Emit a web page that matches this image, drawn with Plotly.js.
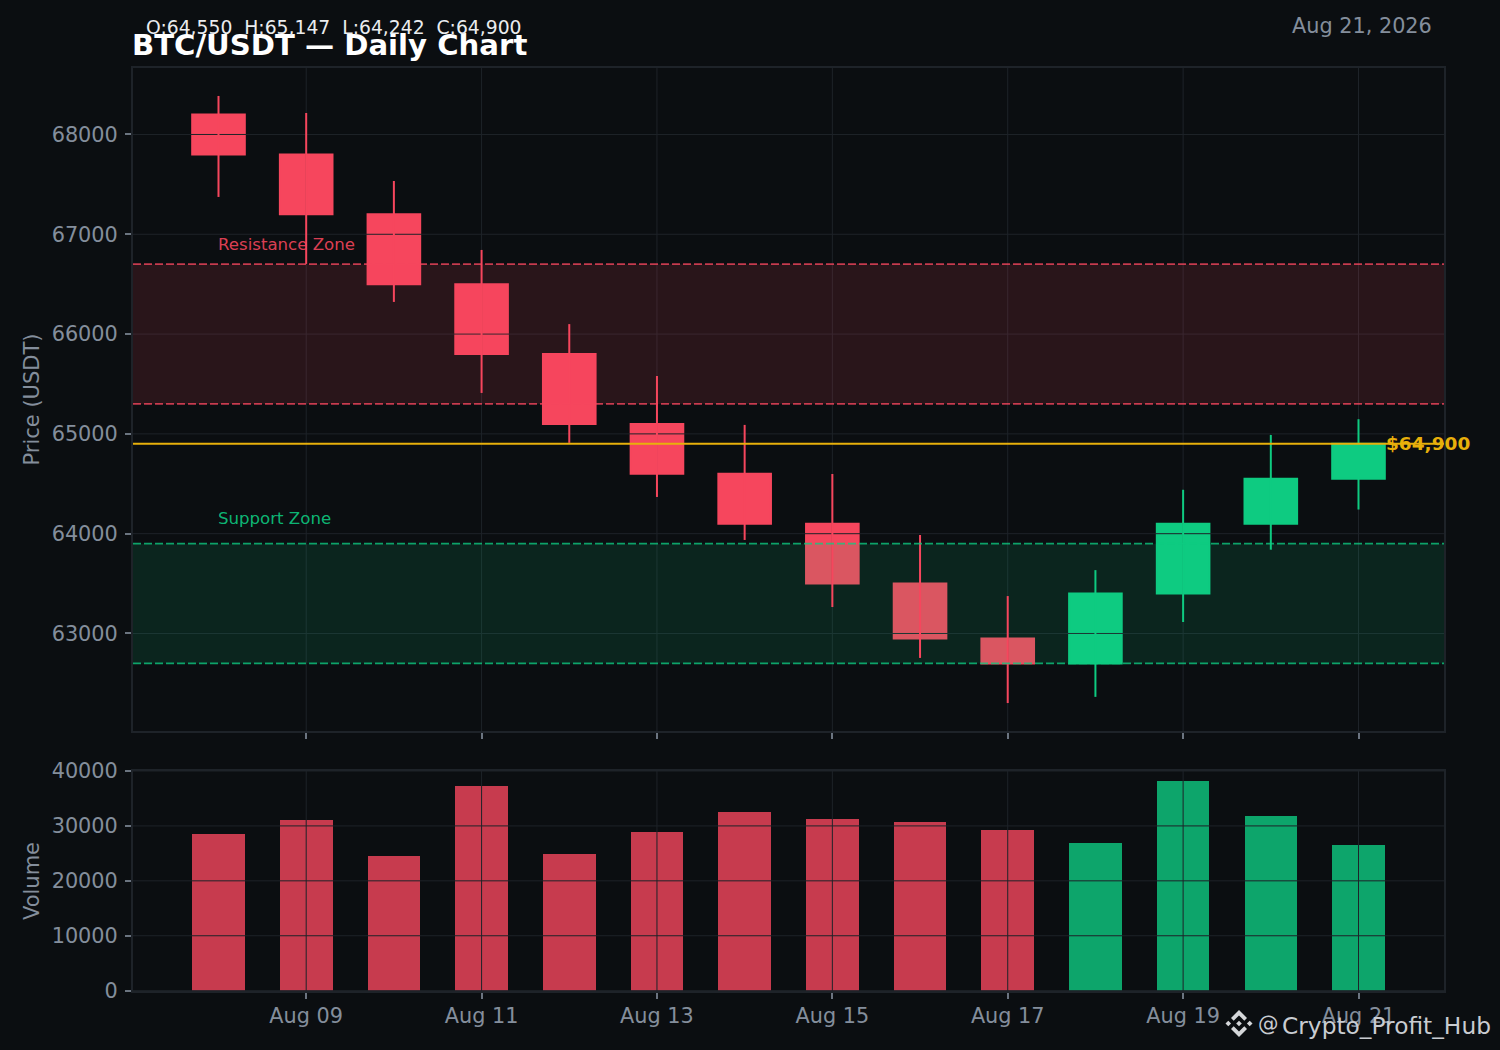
<!DOCTYPE html>
<html><head><meta charset="utf-8">
<script src="https://cdn.plot.ly/plotly-3.0.1.min.js"></script>
<style>html,body{margin:0;padding:0;background:#0B0E11}#c{width:1500px;height:1050px}</style>
</head><body><div id="c"></div>
<script>
const dates = ['2026-08-08','2026-08-09','2026-08-10','2026-08-11','2026-08-12','2026-08-13','2026-08-14','2026-08-15','2026-08-16','2026-08-17','2026-08-18','2026-08-19','2026-08-20','2026-08-21'];
const opens  = [68200,67800,67200,66500,65800,65100,64600,64100,63500,62950,62700,63400,64100,64550];
const closes = [67800,67200,66500,65800,65100,64600,64100,63500,62950,62700,63400,64100,64550,64900];
const highs  = [68386,68215,67534,66843,66100,65580,65090,64598,63987,63375,63635,64440,64990,65147];
const lows   = [67374,66703,66322,65410,64910,64368,63937,63265,62755,62303,62365,63115,63840,64242];
const volumes= [28520,31050,24550,37360,24900,28880,32490,31230,30690,29240,26900,38090,31770,26530];
const xTicks = ['2026-08-09','2026-08-11','2026-08-13','2026-08-15','2026-08-17','2026-08-19','2026-08-21'];
const xTickText = ['Aug 09','Aug 11','Aug 13','Aug 15','Aug 17','Aug 19','Aug 21'];
const priceTicks = [63000,64000,65000,66000,67000,68000];
const volumeTicks = [0,10000,20000,30000,40000];
const xRange = ['2026-08-07 00:36','2026-08-21 23:24'];
const priceRange = [62023,68666];
const volumeRange = [-60,40000];
const resistanceZone = [65300,66700];
const supportZone = [62700,63900];
const lastPrice = 64900;

const BG='#0B0E11', GRID='#1E2329', TXT='#848E9C', RED='#F6465D', GREEN='#0ECB81', GOLD='#E8B00B';
const W=1500,H=1050,L=133,R=1444,T=68,B=991;
const px=v=>(v-L)/(R-L), py=v=>(B-v)/(B-T);

const isUp=opens.map((o,i)=>closes[i]>=o);
const colors=isUp.map(u=>u?GREEN:RED);
const volColors=isUp.map(u=>u?'#0DA56B':'#C73B4E');
const dayMs=86400000;

function gridTrace(xa,ya,yvals,yr){
  const x=[],y=[];
  yvals.forEach(v=>{x.push(xRange[0],xRange[1],null);y.push(v,v,null);});
  xTicks.forEach(d=>{x.push(d,d,null);y.push(yr[0],yr[1],null);});
  return {type:'scatter',mode:'lines',x,y,xaxis:xa,yaxis:ya,line:{color:GRID,width:1},hoverinfo:'skip',connectgaps:false};
}
function wick(up){
  const x=[],y=[];
  dates.forEach((d,i)=>{if(isUp[i]===up){x.push(d,d,null);y.push(lows[i],highs[i],null);}});
  return {type:'scatter',mode:'lines',x,y,xaxis:'x2',yaxis:'y2',line:{color:up?GREEN:RED,width:2},hoverinfo:'skip'};
}
function zone(z,c){
  return {type:'scatter',mode:'lines',x:[xRange[0],xRange[1],xRange[1],xRange[0],xRange[0]],y:[z[0],z[0],z[1],z[1],z[0]],
    xaxis:'x2',yaxis:'y2',fill:'toself',fillcolor:c,line:{width:0},hoverinfo:'skip'};
}
function hline(v,c,dash,w){
  return {type:'scatter',mode:'lines',x:xRange,y:[v,v],xaxis:'x2',yaxis:'y2',line:{color:c,width:w,dash:dash},hoverinfo:'skip'};
}
const traces=[
  {type:'bar',x:dates,y:closes.map((c,i)=>c-opens[i]),base:opens,width:0.6*dayMs,xaxis:'x2',yaxis:'y2',
   marker:{color:colors,line:{color:colors,width:2}},hoverinfo:'skip'},
  {type:'bar',x:dates,y:volumes,width:0.6*dayMs,xaxis:'x',yaxis:'y',marker:{color:volColors,line:{width:0}},hoverinfo:'skip'},
  gridTrace('x2','y2',priceTicks,priceRange),
  gridTrace('x','y',volumeTicks,volumeRange),
  zone(resistanceZone,'rgba(246,70,93,0.13)'),
  zone(supportZone,'rgba(14,203,129,0.12)'),
  wick(false),wick(true),
  ...resistanceZone.map(v=>hline(v,'rgba(246,70,93,0.78)','8px,3px',1.8)),
  ...supportZone.map(v=>hline(v,'rgba(14,203,129,0.78)','8px,3px',1.8)),
  hline(lastPrice,GOLD,'solid',2)
];

const logoC=[1239,1023.5];
const pt=(a,b)=>px(a)+','+py(b);
function diamond(cx,cy,r){
  return 'M'+pt(cx-r,cy)+' L'+pt(cx,cy-r)+' L'+pt(cx+r,cy)+' L'+pt(cx,cy+r)+' Z';
}
function chevron(cx,cy,d){
  return 'M'+pt(cx,cy+d*13.5)+' L'+pt(cx+8,cy+d*5.5)+' L'+pt(cx+5.3,cy+d*2.8)+' L'+pt(cx,cy+d*8.1)+' L'+pt(cx-5.3,cy+d*2.8)+' L'+pt(cx-8,cy+d*5.5)+' Z';
}
const logoColor='#D5D7DA';
const logoShapes=[diamond(logoC[0],logoC[1],2.8),diamond(logoC[0]-10.7,logoC[1],2.8),diamond(logoC[0]+10.7,logoC[1],2.8),
  chevron(logoC[0],logoC[1],-1),chevron(logoC[0],logoC[1],1)].map(path=>({type:'path',xref:'paper',yref:'paper',path,fillcolor:logoColor,line:{width:0},layer:'above'}));

const FF='"DejaVu Sans", sans-serif';
const axisBase={showgrid:false,zeroline:false,showline:true,linecolor:GRID,linewidth:2,mirror:true,
  ticks:'outside',ticklen:6,tickwidth:2,tickcolor:'#6B7480',tickfont:{family:FF,size:20.8,color:TXT}};
const layout={
  width:W,height:H,autosize:false,paper_bgcolor:BG,plot_bgcolor:BG,showlegend:false,barmode:'overlay',bargap:0,
  margin:{l:L,r:W-R,t:T,b:H-B,pad:0,autoexpand:false},
  title:{text:'<b>BTC/USDT — Daily Chart</b>',font:{family:FF,size:29.15,color:'#FFFFFF'},x:132/W,xref:'container',xanchor:'left',y:1-44.5/H,yref:'container',yanchor:'middle',pad:{t:0,b:0,l:0,r:0}},
  xaxis:{...axisBase,type:'date',range:xRange,domain:[0,1],anchor:'y',tickmode:'array',tickvals:xTicks,ticktext:xTickText,ticklabelstandoff:-1},
  xaxis2:{...axisBase,type:'date',range:xRange,domain:[0,1],anchor:'y2',tickmode:'array',tickvals:xTicks,ticktext:xTickText,showticklabels:false},
  yaxis:{...axisBase,range:volumeRange,domain:[0,py(771)],anchor:'x',tickmode:'array',tickvals:volumeTicks,ticktext:volumeTicks.map(String),ticklabelstandoff:3,
    title:{text:'Volume',font:{family:FF,size:21,color:TXT},standoff:6}},
  yaxis2:{...axisBase,range:priceRange,domain:[py(731),1],anchor:'x2',tickmode:'array',tickvals:priceTicks,ticktext:priceTicks.map(String),ticklabelstandoff:3,
    title:{text:'Price (USDT)',font:{family:FF,size:21,color:TXT},standoff:6}},
  shapes:logoShapes,
  annotations:[
    {xref:'paper',yref:'paper',x:px(144),y:py(27),xanchor:'left',yanchor:'middle',showarrow:false,text:'O:64,550&nbsp;&nbsp;H:65,147&nbsp;&nbsp;L:64,242&nbsp;&nbsp;C:64,900',font:{family:FF,size:18.75,color:'#EAECEF'}},
    {xref:'paper',yref:'paper',x:px(1434),y:py(26),xanchor:'right',yanchor:'middle',showarrow:false,text:'Aug 21, 2026',font:{family:FF,size:20.8,color:TXT}},
    {xref:'x2',yref:'y2',x:dates[0],y:66895,xanchor:'left',yanchor:'middle',showarrow:false,xshift:-3,text:'Resistance Zone',font:{family:FF,size:16.6,color:'rgba(246,70,93,0.9)'}},
    {xref:'x2',yref:'y2',x:dates[0],y:64150,xanchor:'left',yanchor:'middle',showarrow:false,xshift:-3,text:'Support Zone',font:{family:FF,size:16.6,color:'rgba(14,203,129,0.9)'}},
    {xref:'paper',yref:'y2',x:px(1384),y:lastPrice,xanchor:'left',yanchor:'middle',showarrow:false,text:'<b>$64,900</b>',font:{family:FF,size:18.5,color:GOLD}},
    {xref:'paper',yref:'paper',x:px(1256),y:py(1024),xanchor:'left',yanchor:'middle',showarrow:false,text:'@',font:{family:FF,size:20.5,color:'#C9CCD1'}},
    {xref:'paper',yref:'paper',x:px(1493),y:py(1025),xanchor:'right',yanchor:'middle',showarrow:false,text:'Crypto_Profit_Hub',font:{family:FF,size:23.3,color:'#C9CCD1'}}
  ]
};
Plotly.newPlot('c',traces,layout,{displayModeBar:false,staticPlot:true});
</script></body></html>
